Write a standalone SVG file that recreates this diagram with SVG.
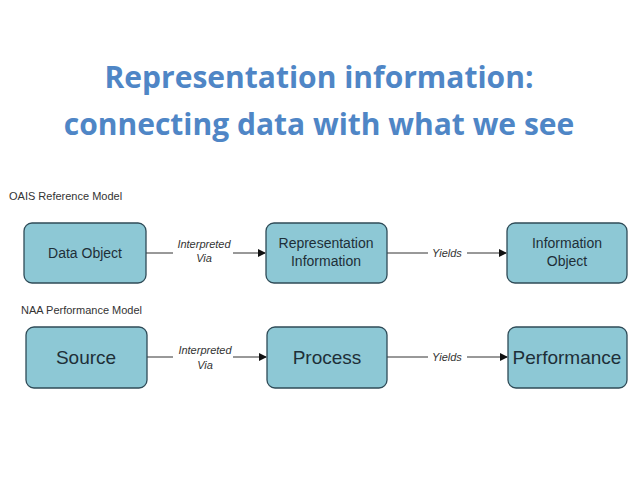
<svg xmlns="http://www.w3.org/2000/svg" width="638" height="478" viewBox="0 0 638 478">
<style>
.t{font-family:"Open Sans","Liberation Sans",sans-serif;font-weight:bold;font-size:30px;fill:#4f86c6;text-anchor:middle}
.box{fill:#8dc8d5;stroke:#2f4b57;stroke-width:1.3}
.n{font-family:"Liberation Sans",Arial,sans-serif;fill:#1e2f38;text-anchor:middle;font-size:14px}
.b{font-size:19px}
.l{font-family:"Liberation Sans",Arial,sans-serif;font-style:italic;font-size:11px;fill:#333;text-anchor:middle}
.h{font-family:"Liberation Sans",Arial,sans-serif;font-size:11px;fill:#333}
.c{stroke:#333;stroke-width:1;fill:none;marker-end:url(#a)}
</style>
<defs><marker id="a" markerWidth="8" markerHeight="8" refX="7" refY="4" orient="auto" markerUnits="userSpaceOnUse"><path d="M0,0L8,4L0,8z" fill="#111"/></marker></defs>
<rect width="638" height="478" fill="#fff"/>
<text class="t" x="319" y="88">Representation information:</text>
<text class="t" x="319" y="135">connecting data with what we see</text>
<text class="h" x="9" y="200">OAIS Reference Model</text>
<text class="h" x="21" y="314">NAA Performance Model</text>
<g id="connectors">
<path class="c" d="M146,253H173M233,253H265"/>
<text class="l" x="204" y="248">Interpreted</text><text class="l" x="204" y="262">Via</text>
<path class="c" d="M387,253H428M467,253H506"/>
<text class="l" x="447" y="257">Yields</text>
<path class="c" d="M147,357H173M233,357H266"/>
<text class="l" x="205" y="354">Interpreted</text><text class="l" x="205" y="369">Via</text>
<path class="c" d="M387,357H428M467,357H507"/>
<text class="l" x="447" y="361">Yields</text>
</g>
<g id="n1"><rect class="box" x="24" y="223" width="122" height="60" rx="8"/><text class="n" x="85" y="258">Data Object</text></g>
<g id="n2"><rect class="box" x="266" y="223" width="121" height="60" rx="8"/><text class="n" x="326" y="248">Representation</text><text class="n" x="326" y="266">Information</text></g>
<g id="n3"><rect class="box" x="507" y="223" width="120" height="60" rx="8"/><text class="n" x="567" y="248">Information</text><text class="n" x="567" y="266">Object</text></g>
<g id="n4"><rect class="box" x="26" y="327" width="121" height="61" rx="8"/><text class="n b" x="86" y="364">Source</text></g>
<g id="n5"><rect class="box" x="267" y="327" width="120" height="61" rx="8"/><text class="n b" x="327" y="364">Process</text></g>
<g id="n6"><rect class="box" x="508" y="327" width="119" height="61" rx="8"/><text class="n b" x="567" y="364">Performance</text></g>
</svg>
